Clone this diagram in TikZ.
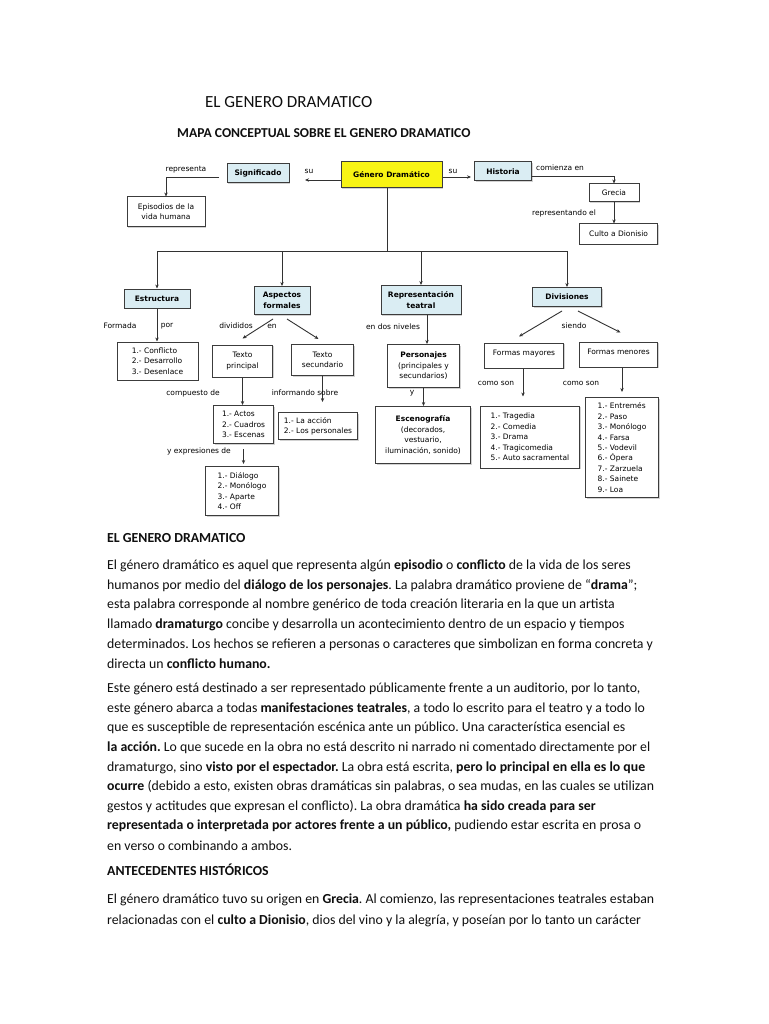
\documentclass[tikz,border=0pt]{standalone}
\usepackage{fontspec}
\setmainfont{Carlito}
\newfontfamily\djv{DejaVu Sans}
\usetikzlibrary{arrows.meta,shadows}
\definecolor{linec}{RGB}{50,50,50}
\definecolor{boxc}{RGB}{60,60,60}
\definecolor{bluef}{RGB}{218,237,243}
\definecolor{yellowf}{RGB}{248,244,20}
\definecolor{textc}{RGB}{15,15,15}
\frenchspacing
\begin{document}
\begin{tikzpicture}[x=1pt,y=-1pt,
  box/.style={draw=boxc, line width=1pt, fill=white, inner sep=0pt, align=center, text=black,
    font=\djv\fontsize{7.5}{10.4}\selectfont,
    drop shadow={shadow xshift=1.2pt, shadow yshift=-1.2pt, fill=black!35}},
  hbox/.style={box, fill=bluef, font=\djv\bfseries\fontsize{7.5}{10.5}\selectfont},
  lbl/.style={font=\djv\fontsize{7.5}{9}\selectfont, inner sep=0pt, text=black},
  conn/.style={draw=linec, line width=0.9pt},
  arr/.style={conn, -{Stealth[length=4pt,width=3.4pt]}},
  body/.style={anchor=west, inner sep=0pt, font=\fontsize{13.8}{16}\selectfont, text=textc},
  bodyhead/.style={body, font=\bfseries\fontsize{13.8}{16}\selectfont}
]
\useasboundingbox[fill=white] (0,0) rectangle (768,1024);

% titles
\node[anchor=west, inner sep=0pt, font=\fontsize{17}{20}\selectfont, text=textc] (title) at (205,102) {EL GENERO DRAMATICO};
\node[anchor=west, inner sep=0pt, font=\bfseries\fontsize{13.6}{16}\selectfont, text=textc] (subtitle) at (177,133) {MAPA CONCEPTUAL SOBRE EL GENERO DRAMATICO};

% top row
\node[hbox, minimum width=62pt, minimum height=19pt] (sig) at (258,173.5) {Significado};
\node[box, fill=yellowf, font=\djv\bfseries\fontsize{7.5}{10.5}\selectfont, minimum width=101pt, minimum height=26pt] (gen) at (391.5,175) {Género Dramático};
\node[hbox, minimum width=57pt, minimum height=19pt] (hist) at (503,171.5) {Historia};
\node[box, minimum width=78pt, minimum height=30pt] (epi) at (166,212) {Episodios de la\\vida humana};
\node[box, minimum width=50pt, minimum height=18pt] (grecia) at (614,193) {Grecia};
\node[box, minimum width=78pt, minimum height=20pt] (culto) at (618.5,234) {Culto a Dionisio};

% second row
\node[hbox, minimum width=66pt, minimum height=19pt] (estr) at (157,298.5) {Estructura};
\node[hbox, minimum width=56pt, minimum height=28pt] (asp) at (282,300.5) {Aspectos\\formales};
\node[hbox, minimum width=80pt, minimum height=29pt] (rep) at (421,300) {Representación\\teatral};
\node[hbox, minimum width=69pt, minimum height=19pt] (div) at (567,297) {Divisiones};

% third row
\node[box, minimum width=81pt, minimum height=38pt, align=left] (conf) at (157.5,361) {1.- Conflicto\\2.- Desarrollo\\3.- Desenlace};
\node[box, minimum width=60pt, minimum height=32pt] (tp) at (242.5,361) {Texto\\principal};
\node[box, minimum width=62pt, minimum height=31pt] (ts) at (322.5,360) {Texto\\secundario};
\node[box, minimum width=72pt, minimum height=43pt] (pers) at (423.5,366) {\textbf{Personajes}\\(principales y\\secundarios)};
\node[box, minimum width=79pt, minimum height=25pt, text depth=6pt] (fmay) at (524,355.5) {Formas mayores};
\node[box, minimum width=78pt, minimum height=25pt, text depth=6pt] (fmen) at (618.5,354.5) {Formas menores};

% fourth row
\node[box, minimum width=60pt, minimum height=38pt, align=left] (actos) at (243.5,424.5) {1.- Actos\\2.- Cuadros\\3.- Escenas};
\node[box, minimum width=79pt, minimum height=27pt, align=left] (accion) at (318,426) {1.- La acción\\2.- Los personales};
\node[box, minimum width=95pt, minimum height=57pt] (esc) at (423,435) {\textbf{Escenografía}\\(decorados,\\vestuario,\\iluminación, sonido)};
\node[box, minimum width=99pt, minimum height=62pt, align=left] (trag) at (530,437) {1.- Tragedia\\2.- Comedia\\3.- Drama\\4.- Tragicomedia\\5.- Auto sacramental};
\node[box, minimum width=73pt, minimum height=100pt, align=left] (entr) at (622,447.5) {1.- Entremés\\2.- Paso\\3.- Monólogo\\4.- Farsa\\5.- Vodevil\\6.- Ópera\\7.- Zarzuela\\8.- Sainete\\9.- Loa};
\node[box, minimum width=73pt, minimum height=49pt, align=left] (dial) at (242,491) {1.- Diálogo\\2.- Monólogo\\3.- Aparte\\4.- Off};

% connectors top
\coordinate (suL) at (305,180);
\coordinate (suR) at (471,177);
\coordinate (repA) at (219,177);
\draw[arr] (gen.west |- suL) -- (suL);
\draw[arr] (gen.east |- suR) -- (suR);
\draw[arr] (repA) -| (epi.north);
\draw[arr] (hist.east |- 0,176) -| (grecia.north);
\draw[arr] (grecia.south) -- (grecia.south |- culto.north);

% tree
\coordinate (hb) at (387,251);
\draw[conn] (gen.south -| hb) -- (hb);
\draw[conn] (estr.north |- hb) -- (div.north |- hb);
\foreach \n in {estr,asp,rep,div} \draw[arr] (\n.north |- hb) -- (\n.north);

\draw[arr] (estr.south) -- (estr.south |- conf.north);
\draw[arr] ([shift={(-9,4)}]asp.south) -- ([shift={(0,-6)}]tp.north);
\draw[arr] ([shift={(5,4)}]asp.south) -- ([shift={(-4,-5)}]ts.north);
\draw[arr] (tp.south) -- (tp.south |- actos.north);
\draw[arr] (ts.south) -- ([yshift=10pt]ts.south |- accion.north);
\draw[arr] ([yshift=-5pt]actos.south) -- ([yshift=2pt]actos.south |- dial.north);
\draw[arr] ([xshift=6pt]rep.south) -- ([xshift=6pt]rep.south |- pers.north);
\draw[arr] (pers.south) -- (pers.south |- esc.north);
\draw[arr] ([shift={(-5,4)}]div.south) -- ([shift={(-5,-6)}]fmay.north);
\draw[arr] ([shift={(11,4)}]div.south) -- ([shift={(2,-9)}]fmen.north);
\draw[arr] ([xshift=-1pt]fmay.south) -- ([yshift=9pt,xshift=-1pt]fmay.south |- trag.north);
\draw[arr] (entr.north |- fmen.south) -- ([yshift=5pt]entr.north);

% labels
\node[lbl] (l1) at (186,170) {representa};
\node[lbl] (l2) at (309,171) {su};
\node[lbl] (l3) at (453,171) {su};
\node[lbl] (l4) at (560,168) {comienza en};
\node[lbl] (l5) at (564,213) {representando el};
\node[lbl] (l6) at (120,326) {Formada};
\node[lbl] (l7) at (167,326) {por};
\node[lbl] (l8) at (236,326) {divididos};
\node[lbl] (l9) at (272,326) {en};
\node[lbl] (l10) at (393,327) {en dos niveles};
\node[lbl] (l11) at (193,393) {compuesto de};
\node[lbl] (l12) at (305,393) {informando sobre};
\node[lbl] (l13) at (412,393) {y};
\node[lbl] (l14) at (199,451) {y expresiones de};
\node[lbl] (l15) at (574,326) {siendo};
\node[lbl] (l16) at (496,383) {como son};
\node[lbl] (l17) at (581,383) {como son};

% body text
\node[bodyhead] (h1) at (107,538) {EL GENERO DRAMATICO};
\node[body] (p1a) at (107,566) {El género dramático es aquel que representa algún \textbf{episodio} o \textbf{conflicto} de la vida de los seres};
\node[body] (p1b) at (107,585.6) {humanos por medio del \textbf{diálogo de los personajes}. La palabra dramático proviene de “\textbf{drama}”;};
\node[body] (p1c) at (107,605.2) {esta palabra corresponde al nombre genérico de toda creación literaria en la que un artista};
\node[body] (p1d) at (107,624.8) {llamado \textbf{dramaturgo} concibe y desarrolla un acontecimiento dentro de un espacio y tiempos};
\node[body] (p1e) at (107,644.4) {determinados. Los hechos se refieren a personas o caracteres que simbolizan en forma concreta y};
\node[body] (p1f) at (107,664) {directa un \textbf{conflicto humano.}};

\node[body] (p2a) at (107,689) {Este género está destinado a ser representado públicamente frente a un auditorio, por lo tanto,};
\node[body] (p2b) at (107,708.6) {este género abarca a todas \textbf{manifestaciones teatrales}, a todo lo escrito para el teatro y a todo lo};
\node[body] (p2c) at (107,728.2) {que es susceptible de representación escénica ante un público. Una característica esencial es};
\node[body] (p2d) at (107,747.8) {\textbf{la acción.} Lo que sucede en la obra no está descrito ni narrado ni comentado directamente por el};
\node[body] (p2e) at (107,767.4) {dramaturgo, sino \textbf{visto por el espectador.} La obra está escrita, \textbf{pero lo principal en ella es lo que}};
\node[body] (p2f) at (107,787) {\textbf{ocurre} (debido a esto, existen obras dramáticas sin palabras, o sea mudas, en las cuales se utilizan};
\node[body] (p2g) at (107,806.6) {gestos y actitudes que expresan el conflicto). La obra dramática \textbf{ha sido creada para ser}};
\node[body] (p2h) at (107,826.2) {\textbf{representada o interpretada por actores frente a un público,} pudiendo estar escrita en prosa o};
\node[body] (p2i) at (107,845.8) {en verso o combinando a ambos.};

\node[bodyhead] (h2) at (107,870) {ANTECEDENTES HISTÓRICOS};
\node[body] (p3a) at (107,900) {El género dramático tuvo su origen en \textbf{Grecia}. Al comienzo, las representaciones teatrales estaban};
\node[body] (p3b) at (107,921) {relacionadas con el \textbf{culto a Dionisio}, dios del vino y la alegría, y poseían por lo tanto un carácter};
\end{tikzpicture}
\end{document}
